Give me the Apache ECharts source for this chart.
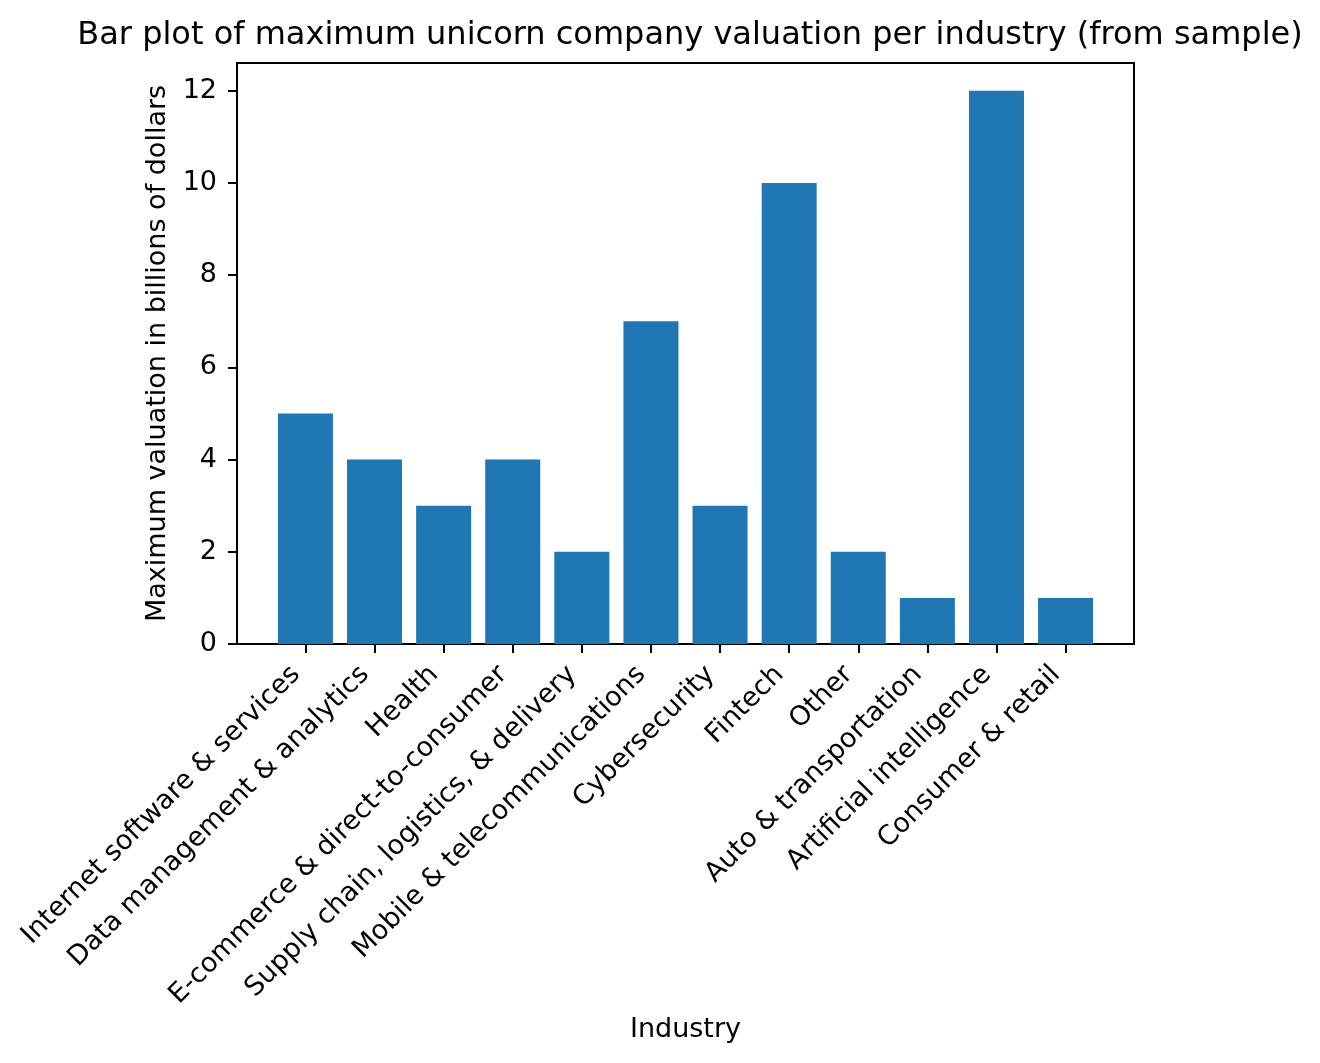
<!DOCTYPE html>
<html>
<head>
<meta charset="utf-8">
<script src="https://cdn.jsdelivr.net/npm/echarts@6/dist/echarts.min.js"></script>
<style>
  html, body { margin: 0; padding: 0; background: #fff; }
  #main { width: 1320px; height: 1063px; }
</style>
</head>
<body>
<div id="main"></div>
<script>
var industries = [
    'Internet software & services',
    'Data management & analytics',
    'Health',
    'E-commerce & direct-to-consumer',
    'Supply chain, logistics, & delivery',
    'Mobile & telecommunications',
    'Cybersecurity',
    'Fintech',
    'Other',
    'Auto & transportation',
    'Artificial intelligence',
    'Consumer & retail'
];
var maxValuation = [5, 4, 3, 4, 2, 7, 3, 10, 2, 1, 12, 1];
var yTicks = [0, 2, 4, 6, 8, 10, 12];

var font = 'DejaVu Sans';
var positions = industries.map(function (name, i) { return i; });
var barData = maxValuation.map(function (v, i) { return [i, v]; });

var myChart = echarts.init(document.getElementById('main'), null, {renderer: 'canvas'});

var option = {
    backgroundColor: '#fff',
    animation: false,
    title: {
        text: 'Bar plot of maximum unicorn company valuation per industry (from sample)',
        left: 685,
        top: 15,
        textAlign: 'center',
        textStyle: {
            fontFamily: font,
            fontSize: 32,
            fontWeight: 'normal',
            color: '#000'
        }
    },
    grid: {
        left: 237,
        right: 186,
        top: 63,
        bottom: 419,
        show: true,
        borderColor: '#000',
        borderWidth: 2,
        backgroundColor: 'transparent'
    },
    xAxis: {
        type: 'value',
        min: -0.99,
        max: 11.99,
        name: 'Industry',
        nameLocation: 'middle',
        nameGap: 370,
        nameTextStyle: {fontFamily: font, fontSize: 27, color: '#000'},
        splitLine: {show: false},
        axisLine: {show: true, onZero: false, lineStyle: {color: '#000', width: 2}},
        axisTick: {
            show: true,
            customValues: positions,
            length: 9,
            lineStyle: {color: '#000', width: 2}
        },
        axisLabel: {
            customValues: positions,
            rotate: 45,
            margin: 36,
            verticalAlign: 'bottom',
            fontFamily: font,
            fontSize: 27,
            color: '#000',
            formatter: function (v) { return industries[Math.round(v)]; }
        }
    },
    yAxis: {
        type: 'value',
        min: 0,
        max: 12.6,
        name: 'Maximum valuation in billions of dollars',
        nameLocation: 'middle',
        nameRotate: 90,
        nameGap: 66,
        nameTextStyle: {fontFamily: font, fontSize: 27, color: '#000'},
        splitLine: {show: false},
        axisLine: {show: true, onZero: false, lineStyle: {color: '#000', width: 2}},
        axisTick: {
            show: true,
            customValues: yTicks,
            length: 9,
            lineStyle: {color: '#000', width: 2}
        },
        axisLabel: {
            customValues: yTicks,
            margin: 20,
            fontFamily: font,
            fontSize: 27,
            color: '#000'
        }
    },
    series: [{
        type: 'bar',
        data: barData,
        barWidth: 55,
        itemStyle: {color: '#1f77b4'}
    }]
};
myChart.setOption(option);
</script>
</body>
</html>
